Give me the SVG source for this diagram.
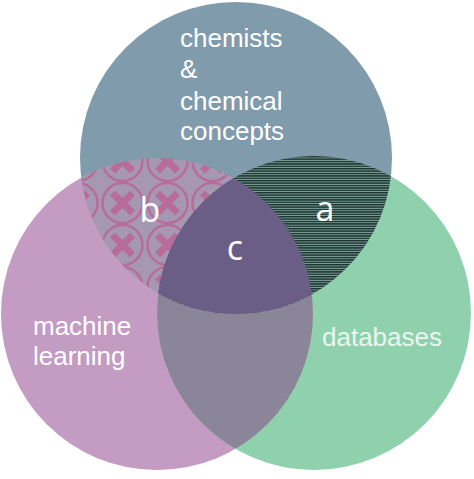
<svg xmlns="http://www.w3.org/2000/svg" width="474" height="479" viewBox="0 0 474 479">
<style>
.lbl{font-family:"Liberation Sans",Arial,sans-serif;font-size:26px;fill:#ffffff}
.let{font-family:"Open Sans","DejaVu Sans",sans-serif;font-size:34px;fill:#ffffff;text-anchor:middle}
</style>
<defs>
<clipPath id="cTop"><circle cx="236" cy="158" r="156"/></clipPath>
<clipPath id="cPink"><circle cx="157" cy="314" r="156"/></clipPath>
<pattern id="pB" patternUnits="userSpaceOnUse" x="100" y="182" width="45" height="42">
<rect width="45" height="42" fill="#a698b2"/>
<circle cx="22.5" cy="21" r="20" fill="none" stroke="#b86c9c" stroke-width="2.5"/>
<path d="M12.5 11 L32.5 31 M32.5 11 L12.5 31" stroke="#b86c9c" stroke-width="7"/>
</pattern>
<pattern id="pA" patternUnits="userSpaceOnUse" x="0" y="0" width="10" height="2.4">
<rect width="10" height="2.4" fill="#7fa89b"/>
<rect width="10" height="1.45" fill="#1c3230"/>
</pattern>
</defs>
<rect width="474" height="479" fill="#ffffff"/>
<g id="machine-learning">
<circle cx="157" cy="314" r="156" fill="#c49bc3"/>
</g>
<g id="databases">
<circle cx="314" cy="313" r="157" fill="#8fd1ad"/>
</g>
<g id="overlap-ml-db">
<circle cx="314" cy="313" r="157" fill="#8b8599" clip-path="url(#cPink)"/>
</g>
<g id="chemists">
<circle cx="236" cy="158" r="156" fill="#7f9bac"/>
</g>
<g id="region-b" clip-path="url(#cTop)">
<circle cx="157" cy="314" r="156" fill="url(#pB)"/>
</g>
<g id="region-a" clip-path="url(#cTop)">
<circle cx="314" cy="313" r="157" fill="url(#pA)"/>
</g>
<g id="region-c" clip-path="url(#cTop)">
<circle cx="314" cy="313" r="157" fill="#6b5e86" clip-path="url(#cPink)"/>
</g>
<g id="labels">
<text class="lbl" x="180" y="47">chemists</text>
<text class="lbl" x="180" y="78">&amp;</text>
<text class="lbl" x="180" y="110">chemical</text>
<text class="lbl" x="180" y="140">concepts</text>
<text class="lbl" x="33" y="335">machine</text>
<text class="lbl" x="33" y="365">learning</text>
<text class="lbl" x="322" y="346" style="fill:#eaf6ef">databases</text>
<text class="let" x="150" y="222">b</text>
<text class="let" x="325" y="221">a</text>
<text class="let" x="235" y="260">c</text>
</g>
</svg>
